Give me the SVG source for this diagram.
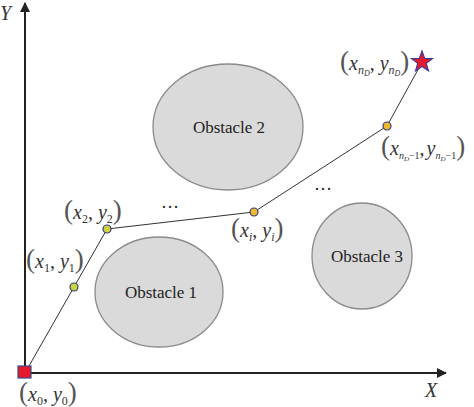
<svg xmlns="http://www.w3.org/2000/svg" width="474" height="407" viewBox="0 0 474 407">
<style>
.axis{stroke:#222;stroke-width:2;fill:none}
.path{stroke:#333;stroke-width:1;fill:none}
.obs{fill:#dadada;stroke:#8a8a8a;stroke-width:1.3}
.otxt{font-family:"Liberation Serif",serif;font-size:17px;fill:#222;text-anchor:middle}
.lbl{font-family:"Liberation Serif",serif;font-size:20px;fill:#333}
.it{font-style:italic}
.par{font-size:27px;fill:#555}
.sub{font-size:12px}
.sub2{font-size:10px}
.dot1{fill:#cfd43c;stroke:#2f3f7a;stroke-width:1.2}
.dot2{fill:#f0b830;stroke:#2f3f7a;stroke-width:1.2}
.dots{font-family:"Liberation Serif",serif;font-size:18px;fill:#222;text-anchor:middle}
</style>
<defs>
<marker id="arr" viewBox="0 0 10 10" refX="9" refY="5" markerWidth="5" markerHeight="5" orient="auto" markerUnits="strokeWidth">
<path d="M0,0 L10,5 L0,10 z" fill="#222"/>
</marker>
</defs>
<rect width="474" height="407" fill="#fff"/>
<g id="obstacle2"><ellipse class="obs" cx="228" cy="127" rx="75" ry="63"/><text class="otxt" x="229" y="133">Obstacle 2</text></g>
<g id="obstacle1"><ellipse class="obs" cx="159" cy="292" rx="64" ry="55"/><text class="otxt" x="161" y="298">Obstacle 1</text></g>
<g id="obstacle3"><ellipse class="obs" cx="362" cy="256" rx="50" ry="53"/><text class="otxt" x="367" y="262">Obstacle 3</text></g>
<g id="axes">
<line class="axis" x1="25" y1="373" x2="25" y2="3" marker-end="url(#arr)"/>
<line class="axis" x1="25" y1="373" x2="446" y2="373" marker-end="url(#arr)"/>
<text class="lbl it" x="0" y="20">Y</text>
<text class="lbl it" x="425" y="397">X</text>
</g>
<g id="connectors">
<polyline class="path" points="25,373 74,287 107,229 254,212 387,126 420,66"/>
</g>
<g id="p0"><rect x="18" y="366" width="13" height="12" fill="#e41a2c" stroke="#3b4a8a" stroke-width="1.2"/>
<text class="lbl" x="19" y="401"><tspan class="par">(</tspan><tspan class="it">x</tspan><tspan class="sub" dy="4">0</tspan><tspan dy="-4">, </tspan><tspan class="it">y</tspan><tspan class="sub" dy="4">0</tspan><tspan class="par" dy="-4">)</tspan></text></g>
<g id="p1"><circle class="dot1" cx="74" cy="287" r="4"/>
<text class="lbl" x="26" y="268"><tspan class="par">(</tspan><tspan class="it">x</tspan><tspan class="sub" dy="4">1</tspan><tspan dy="-4">, </tspan><tspan class="it">y</tspan><tspan class="sub" dy="4">1</tspan><tspan class="par" dy="-4">)</tspan></text></g>
<g id="p2"><circle class="dot1" cx="107" cy="229" r="4"/>
<text class="lbl" x="64" y="219"><tspan class="par">(</tspan><tspan class="it">x</tspan><tspan class="sub" dy="4">2</tspan><tspan dy="-4">, </tspan><tspan class="it">y</tspan><tspan class="sub" dy="4">2</tspan><tspan class="par" dy="-4">)</tspan></text></g>
<g id="pi"><circle class="dot2" cx="254" cy="212" r="4"/>
<text class="lbl" x="231" y="237"><tspan class="par">(</tspan><tspan class="it">x</tspan><tspan class="sub it" dy="4">i</tspan><tspan dy="-4">, </tspan><tspan class="it">y</tspan><tspan class="sub it" dy="4">i</tspan><tspan class="par" dy="-4">)</tspan></text></g>
<g id="pnd1"><circle class="dot2" cx="387" cy="126" r="4"/>
<text class="lbl" x="381" y="155"><tspan class="par">(</tspan><tspan class="it">x</tspan><tspan class="sub2 it" dy="4">n</tspan><tspan class="it" font-size="7" dy="2">D</tspan><tspan class="sub2" dy="-2">−1</tspan><tspan dy="-4">,</tspan><tspan class="it" dx="2">y</tspan><tspan class="sub2 it" dy="4">n</tspan><tspan class="it" font-size="7" dy="2">D</tspan><tspan class="sub2" dy="-2">−1</tspan><tspan class="par" dy="-4">)</tspan></text></g>
<g id="pnd">
<polygon points="422,51 424.65,58.36 432.46,58.6 426.28,63.39 428.47,70.9 422,66.5 415.53,70.9 417.72,63.39 411.54,58.6 419.35,58.36" fill="#e8192c" stroke="#3a3a9a" stroke-width="1.2"/>
<text class="lbl" x="340" y="70"><tspan class="par">(</tspan><tspan class="it">x</tspan><tspan class="sub it" dy="4">n</tspan><tspan class="it" font-size="8" dy="2">D</tspan><tspan dy="-6">, </tspan><tspan class="it">y</tspan><tspan class="sub it" dy="4">n</tspan><tspan class="it" font-size="8" dy="2">D</tspan><tspan class="par" dy="-6">)</tspan></text></g>
<text class="dots" x="170" y="208">…</text>
<text class="dots" x="323" y="190">…</text>
</svg>
